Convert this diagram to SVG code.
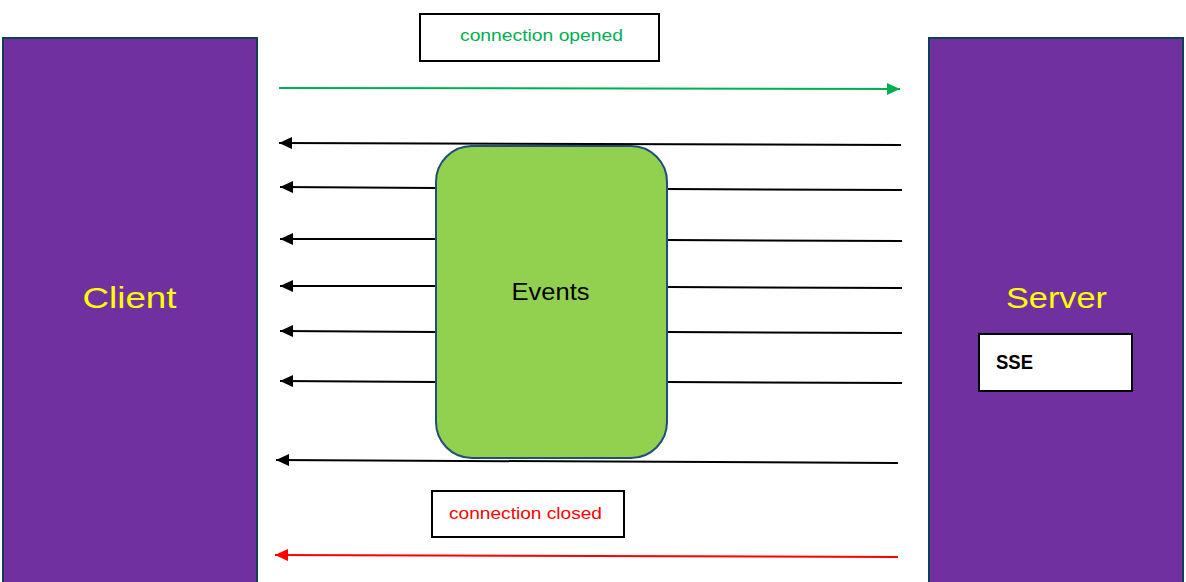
<svg xmlns="http://www.w3.org/2000/svg" width="1186" height="582" viewBox="0 0 1186 582">
<defs>
<style>
.side{fill:#7030a0;stroke:#0e3f55;stroke-width:2}
.big{font-family:"Liberation Sans",Arial,sans-serif;font-size:29px;fill:#ffff00}
.lbl{fill:#fff;stroke:#000;stroke-width:2}
.t{font-family:"Liberation Sans",Arial,sans-serif;font-size:17px}
.blk{stroke:#000;stroke-width:2;fill:none}
</style>
<marker id="ah" markerUnits="userSpaceOnUse" markerWidth="14" markerHeight="12" refX="13" refY="6" orient="auto"><path d="M0,0 L13,6 L0,12 Z" fill="#000"/></marker>
<marker id="ahg" markerUnits="userSpaceOnUse" markerWidth="14" markerHeight="12" refX="13" refY="6" orient="auto"><path d="M0,0 L13,6 L0,12 Z" fill="#00b050"/></marker>
<marker id="ahr" markerUnits="userSpaceOnUse" markerWidth="14" markerHeight="12" refX="13" refY="6" orient="auto"><path d="M0,0 L13,6 L0,12 Z" fill="#ff0000"/></marker>
</defs>
<rect width="1186" height="582" fill="#fff"/>
<g id="client">
<rect class="side" x="3" y="38" width="254" height="546"/>
<text class="big" x="82.5" y="307.5" textLength="94" lengthAdjust="spacingAndGlyphs">Client</text>
</g>
<g id="server">
<rect class="side" x="929" y="38" width="254" height="546"/>
<text class="big" x="1006" y="307.5" textLength="101" lengthAdjust="spacingAndGlyphs">Server</text>
<rect class="lbl" x="979" y="334" width="153" height="57"/>
<text x="996" y="369" font-family="'Liberation Sans',Arial,sans-serif" font-size="21" font-weight="bold" textLength="37" lengthAdjust="spacingAndGlyphs">SSE</text>
</g>
<g id="connectors">
<line x1="279" y1="88" x2="900" y2="89" stroke="#00b050" stroke-width="2" marker-end="url(#ahg)"/>
<line class="blk" x1="901" y1="145" x2="279" y2="143" marker-end="url(#ah)"/>
<line class="blk" x1="436" y1="188" x2="280" y2="187" marker-end="url(#ah)"/>
<line class="blk" x1="667" y1="189" x2="902" y2="190"/>
<line class="blk" x1="436" y1="239" x2="280" y2="239" marker-end="url(#ah)"/>
<line class="blk" x1="667" y1="240" x2="902" y2="241"/>
<line class="blk" x1="436" y1="286" x2="280" y2="286" marker-end="url(#ah)"/>
<line class="blk" x1="667" y1="287" x2="902" y2="288"/>
<line class="blk" x1="436" y1="332" x2="280" y2="331" marker-end="url(#ah)"/>
<line class="blk" x1="667" y1="332" x2="902" y2="333"/>
<line class="blk" x1="436" y1="382" x2="280" y2="381" marker-end="url(#ah)"/>
<line class="blk" x1="667" y1="382" x2="902" y2="383"/>
<line class="blk" x1="898" y1="463" x2="276" y2="460" marker-end="url(#ah)"/>
<line x1="898" y1="557" x2="275" y2="555" stroke="#ff0000" stroke-width="2" marker-end="url(#ahr)"/>
</g>
<g id="events">
<rect x="436" y="146" width="231" height="312" rx="36" ry="36" fill="#92d050" stroke="#1f4e79" stroke-width="2"/>
<text x="511.5" y="299.5" font-family="'Liberation Sans',Arial,sans-serif" font-size="23" fill="#000" textLength="78" lengthAdjust="spacingAndGlyphs">Events</text>
</g>
<g id="opened">
<rect class="lbl" x="420" y="14" width="239" height="47"/>
<text class="t" x="460" y="41" fill="#00b050" textLength="163" lengthAdjust="spacingAndGlyphs">connection opened</text>
</g>
<g id="closed">
<rect class="lbl" x="432" y="491" width="192" height="46"/>
<text class="t" x="449" y="518.5" fill="#ff0000" textLength="153" lengthAdjust="spacingAndGlyphs">connection closed</text>
</g>
</svg>
